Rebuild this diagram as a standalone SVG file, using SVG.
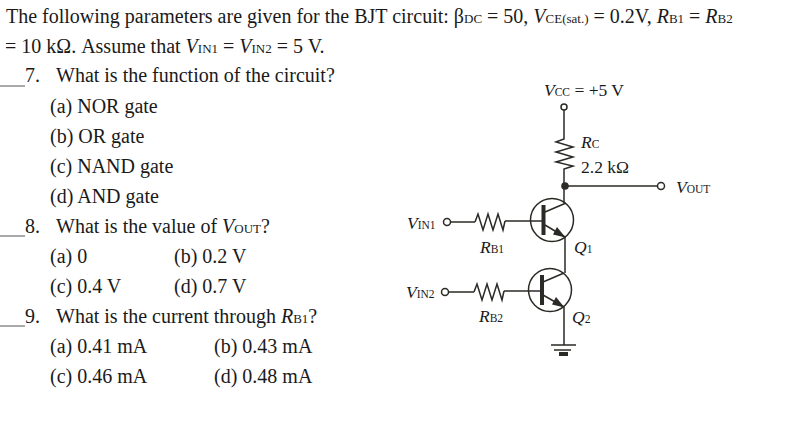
<svg xmlns="http://www.w3.org/2000/svg" width="789" height="436" viewBox="0 0 789 436">
<style>
text{font-family:"Liberation Serif","Times New Roman",serif;fill:#1a1a1a;white-space:pre}
.q{font-size:20px}
.l{font-size:17.500px}
.i{font-style:italic}
.s{font-size:13px}
.ls{font-size:11.500px}
.w{fill:none;stroke:#2b2a26;stroke-width:1.500;stroke-linejoin:miter}
.t{fill:#fff;stroke:#2b2a26;stroke-width:1.500}
.b{fill:#2b2a26;stroke:none}
.u{stroke:#555;stroke-width:1;fill:none}
</style>
<defs>
<g id="res-h"><path class="w" d="M0 0 L3 -8 L8 8 L13 -8 L18 8 L23 -8 L28 8 L30 -1"/></g>
</defs>
<g id="question-text">
<text class="q" x="6" y="23">The following parameters are given for the BJT circuit: β<tspan class="s">DC</tspan> = 50, <tspan class="i">V</tspan><tspan class="s">CE(sat.)</tspan> = 0.2V, <tspan class="i">R</tspan><tspan class="s">B1</tspan> = <tspan class="i">R</tspan><tspan class="s">B2</tspan></text>
<text class="q" x="5" y="53">= 10 kΩ. Assume that <tspan class="i">V</tspan><tspan class="s">IN1</tspan> = <tspan class="i">V</tspan><tspan class="s">IN2</tspan> = 5 V.</text>
<text class="q" x="25" y="82">7.</text><text class="q" x="56" y="82">What is the function of the circuit?</text>
<path class="u" d="M0 86H25M0 236H25M0 326H25"/>
<text class="q" x="50" y="113">(a) NOR gate</text>
<text class="q" x="50" y="143">(b) OR gate</text>
<text class="q" x="50" y="173">(c) NAND gate</text>
<text class="q" x="50" y="203">(d) AND gate</text>
<text class="q" x="25" y="233">8.</text><text class="q" x="56" y="233">What is the value of <tspan class="i">V</tspan><tspan class="s">OUT</tspan>?</text>
<text class="q" x="50" y="263">(a) 0</text><text class="q" x="174" y="263">(b) 0.2 V</text>
<text class="q" x="50" y="293">(c) 0.4 V</text><text class="q" x="174" y="293">(d) 0.7 V</text>
<text class="q" x="25" y="323">9.</text><text class="q" x="56" y="323">What is the current through <tspan class="i">R</tspan><tspan class="s">B1</tspan>?</text>
<text class="q" x="50" y="353">(a) 0.41 mA</text><text class="q" x="214" y="353">(b) 0.43 mA</text>
<text class="q" x="50" y="383">(c) 0.46 mA</text><text class="q" x="214" y="383">(d) 0.48 mA</text>
</g>
<g id="connectors">
<path class="w" d="M564 110V139L556 142L573 147L556 152L573 157L556 162L573 166L564 169V203"/>
<path class="w" d="M565 186H657"/>
<path class="w" d="M565 237V273"/>
<path class="w" d="M564 307V345"/>
<path class="w" d="M450.500 222H475"/>
<use href="#res-h" x="475" y="222"/>
<path class="w" d="M505 221H543"/>
<path class="w" d="M448.500 292H474"/>
<use href="#res-h" x="474" y="292"/>
<path class="w" d="M504 291H542"/>
</g>
<g id="vcc">
<circle class="t" cx="564" cy="107" r="3"/>
<text class="l" x="544" y="96"><tspan class="i">V</tspan><tspan class="ls">CC</tspan> = +5 V</text>
</g>
<g id="rc">
<text class="l" x="581" y="148"><tspan class="i">R</tspan><tspan class="ls">C</tspan></text>
<text class="l" x="581" y="173">2.2 kΩ</text>
</g>
<g id="junction"><circle class="b" cx="565" cy="186" r="3.800"/></g>
<g id="vout">
<circle class="t" cx="661" cy="186" r="3.500"/>
<text class="l" x="676" y="193"><tspan class="i">V</tspan><tspan class="ls">OUT</tspan></text>
</g>
<g id="vin1">
<circle class="t" cx="447" cy="222" r="3.500"/>
<text class="l" x="407" y="229"><tspan class="i">V</tspan><tspan class="ls">IN1</tspan></text>
</g>
<g id="rb1"><text class="l" x="480" y="253"><tspan class="i">R</tspan><tspan class="ls">B1</tspan></text></g>
<g id="q1">
<circle class="w" cx="552" cy="220" r="21.500"/>
<rect class="b" x="541.500" y="205" width="4" height="30"/>
<path class="w" d="M545 212L566 203M545 225L565 237"/>
<path class="b" d="M565.500 237.500L553 234.500L557 227Z"/>
<text class="l i" x="574" y="253">Q<tspan class="ls" font-style="normal">1</tspan></text>
</g>
<g id="vin2">
<circle class="t" cx="445" cy="292" r="3.500"/>
<text class="l" x="406" y="298"><tspan class="i">V</tspan><tspan class="ls">IN2</tspan></text>
</g>
<g id="rb2"><text class="l" x="479" y="322"><tspan class="i">R</tspan><tspan class="ls">B2</tspan></text></g>
<g id="q2">
<circle class="w" cx="550" cy="290" r="21.500"/>
<rect class="b" x="540" y="275" width="4" height="30"/>
<path class="w" d="M543 282L564 273M543 295L564 307"/>
<path class="b" d="M564.500 307.500L552 304.500L556 297Z"/>
<text class="l i" x="572" y="323">Q<tspan class="ls" font-style="normal">2</tspan></text>
</g>
<g id="ground">
<path class="w" d="M551 345H576M554 350H571"/>
<rect class="b" x="559" y="352" width="9" height="4"/>
</g>
</svg>
